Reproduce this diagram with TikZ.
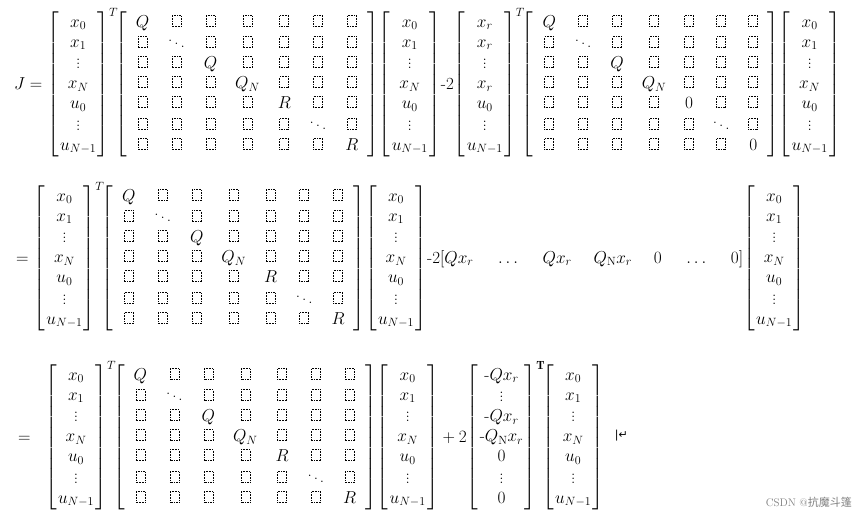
\documentclass[tikz,border=0pt]{standalone}
\usepackage{amsmath}
\usepackage{fontspec}
\newfontfamily\cjk{Noto Sans CJK SC}
\newfontfamily\djv{DejaVu Sans}
\newcommand{\db}{\tikz[baseline=-1pt]\draw[densely dotted,line width=0.6pt](0,0) rectangle (9pt,11pt);}
\newcommand{\vecx}{\setlength{\arraycolsep}{1.5pt}\left[\begin{array}{c}x_0\\x_1\\\vdots\\x_N\\u_0\\\vdots\\u_{N-1}\end{array}\right]}
\newcommand{\matQR}{\setlength{\arraycolsep}{9pt}\left[\begin{array}{ccccccc}
Q&\db&\db&\db&\db&\db&\db\\
\db&\ddots&\db&\db&\db&\db&\db\\
\db&\db&Q&\db&\db&\db&\db\\
\db&\db&\db&Q_N&\db&\db&\db\\
\db&\db&\db&\db&R&\db&\db\\
\db&\db&\db&\db&\db&\ddots&\db\\
\db&\db&\db&\db&\db&\db&R\end{array}\right]}
\newcommand{\matQz}{\setlength{\arraycolsep}{9pt}\left[\begin{array}{ccccccc}
Q&\db&\db&\db&\db&\db&\db\\
\db&\ddots&\db&\db&\db&\db&\db\\
\db&\db&Q&\db&\db&\db&\db\\
\db&\db&\db&Q_N&\db&\db&\db\\
\db&\db&\db&\db&0&\db&\db\\
\db&\db&\db&\db&\db&\ddots&\db\\
\db&\db&\db&\db&\db&\db&0\end{array}\right]}
\tikzset{eq/.style={inner sep=0pt,font=\fontsize{17}{20}\selectfont}}
\begin{document}
\begin{tikzpicture}[x=1pt,y=-1pt]
\useasboundingbox[fill=white] (0,0) rectangle (863,519);
\begin{scope}[every node/.style={eq}]
\renewcommand{\arraystretch}{1}
% row 1
\node[anchor=west] (r1) at (14,83) {$J={\vecx}^{T}\!{\matQR}{\vecx}\text{-2}{\setlength{\arraycolsep}{1.5pt}\left[\begin{array}{c}x_r\\x_r\\\vdots\\x_r\\u_0\\\vdots\\u_{N-1}\end{array}\right]}^{T}\!{\matQz}{\vecx}$};
% row 2
\node[anchor=west] (r2) at (16,257) {$={\vecx}^{T}\!{\matQR}{\vecx}\text{-2}[Qx_r\quad\;\dots\quad\; Qx_r\quad\; Q_{\mathrm{N}}x_r\quad\; 0\quad\;\dots\quad\; 0]{\vecx}$};
% row 3
\node[anchor=west] (r3) at (18,436) {$=\;\;{\vecx}^{T}\!{\matQR}{\vecx}+2{\setlength{\arraycolsep}{1.5pt}\left[\begin{array}{c}\text{-}Qx_r\\\vdots\\\text{-}Qx_r\\\text{-}Q_{\mathrm{N}}x_r\\0\\\vdots\\0\end{array}\right]}^{\mathbf{T}}\!{\vecx}$};
\node[anchor=west] (cur) at (r3.east) {\ \ {\djv\fontsize{11}{13}\selectfont\textbar↵}};
\node[anchor=east,font=\fontsize{11}{13}\selectfont,text=gray] (wm) at (852,502) {CSDN @{\cjk 抗魔斗篷}};
\end{scope}
\end{tikzpicture}
\end{document}
